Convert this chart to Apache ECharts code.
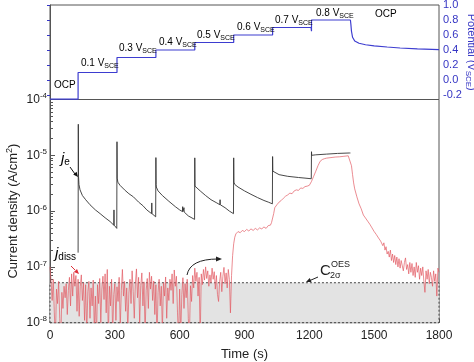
<!DOCTYPE html>
<html>
<head>
<meta charset="utf-8">
<script src="https://cdn.jsdelivr.net/npm/echarts@6/dist/echarts.min.js"></script>
<style>html,body{margin:0;padding:0;background:#fff}#c{width:474px;height:362px}</style>
</head>
<body>
<div id="c"></div>
<script>
// ---- Data ----
const potTime  = [0,130,130,310,310,490,490,670,670,850,850,1030,1030,1208,1210,1210,1390,1392,1395,1400,1410,1430,1460,1500,1560,1620,1700,1800];
const potValue = [-0.255,-0.255,0.1,0.1,0.3,0.3,0.4,0.4,0.5,0.5,0.6,0.6,0.7,0.7,0.65,0.8,0.8,0.75,0.65,0.57,0.52,0.49,0.47,0.455,0.44,0.427,0.415,0.405];

const jeTime  = [130,131,132,134,139,150,165,185,210,232,255,278,295,296,297,309,
                 310,311,314,324,345,365,386,410,430,448,470,471,472,489,
                 490,491,492,500,520,550,580,600,613,614,615,619,620,621,640,669,
                 670,671,675,695,720,745,772,786,787,788,810,830,849,
                 850,851,855,870,900,930,960,990,1010,1029,
                 1030,1031,1035,1060,1100,1150,1180,1209,
                 1210,1211,1230,1280,1330,1385,1390];
const jeValue = [1.8e-7,3.6e-5,4.2e-6,3.0e-6,2.4e-6,1.9e-6,1.6e-6,1.3e-6,1.05e-6,9.0e-7,7.6e-7,6.5e-7,5.6e-7,1.05e-6,5.6e-7,4.9e-7,
                 1.75e-5,3.9e-6,3.3e-6,2.9e-6,2.4e-6,2.05e-6,1.8e-6,1.45e-6,1.25e-6,1.05e-6,9.0e-7,1.4e-6,9.0e-7,7.9e-7,
                 9.1e-6,3.0e-6,2.7e-6,2.3e-6,1.9e-6,1.5e-6,1.2e-6,1.05e-6,9.8e-7,1.2e-6,9.8e-7,9.6e-7,1.15e-6,9.6e-7,8.2e-7,7.1e-7,
                 9.0e-6,2.8e-6,2.6e-6,2.3e-6,1.9e-6,1.6e-6,1.4e-6,1.3e-6,1.6e-6,1.3e-6,1.15e-6,1.0e-6,9.0e-7,
                 9.0e-6,3.3e-6,3.0e-6,2.7e-6,2.3e-6,2.0e-6,1.75e-6,1.55e-6,1.45e-6,1.35e-6,
                 9.5e-6,5.2e-6,4.8e-6,4.5e-6,4.2e-6,4.0e-6,3.9e-6,3.8e-6,
                 1.16e-5,1.0e-5,1.02e-5,1.05e-5,1.08e-5,1.1e-5,1.1e-5];

const jdTime = [0,5,10,15,20,25,30,35,40,45,50,55,60,65,70,75,80,85,90,95,100,105,110,115,120,125,130,135,140,145,150,155,160,165,170,175,180,185,190,195,
  200,205,210,215,220,225,230,235,240,245,250,255,260,265,270,275,280,285,290,295,300,305,310,315,320,325,330,335,340,345,350,355,360,365,370,375,380,385,390,395,
  400,405,410,415,420,425,430,435,440,445,450,455,460,465,470,475,480,485,490,495,500,505,510,515,520,525,530,535,540,545,550,555,560,565,570,575,580,585,590,595,
  600,605,610,615,620,625,630,635,640,645,650,655,660,665,670,675,680,685,690,695,700,705,710,715,720,725,730,735,740,745,750,755,760,765,770,775,780,785,790,795,
  800,805,810,815,820,825,830,835,840,845,850,855,860,865,870,880,890,900,910,920,930,940,950,960,970,980,990,1000,1010,1020,1025,1030,1035,1040,1050,1060,1070,1080,1090,
  1100,1110,1120,1130,1140,1150,1160,1170,1180,1190,1200,1205,1210,1220,1230,1240,1250,1260,1270,1280,1300,1320,1340,1360,1380,1388,1395,
  1400,1405,1410,1420,1430,1440,1450,1460,1470,1480,1490,1500,1510,1520,1530,1540,1545,1550,1555,1560,1565,1570,1575,1580,1585,1590,1595,
  1600,1605,1610,1615,1620,1625,1630,1635,1640,1645,1650,1655,1660,1665,1670,1675,1680,1685,1690,1695,1700,1705,1710,1715,1720,1725,1730,1735,1740,1745,1750,1755,1760,1765,1770,1775,1780,1785,1790,1795,1800];
const jdValue = [1.0e-7,5.5e-8,2.5e-8,6.0e-8,1.5e-8,5e-9,4.0e-8,2.2e-8,5.5e-8,1.2e-8,5e-9,3.5e-8,1.8e-8,4.5e-8,2.8e-8,5.0e-8,1.4e-8,3.8e-8,6.5e-8,2.0e-8,7.5e-8,3.0e-8,8.0e-8,4.5e-8,7.0e-8,1.6e-8,6.0e-8,1.3e-8,4.5e-8,7.2e-8,2.5e-8,5.2e-8,1.1e-8,4.8e-8,6e-9,3.6e-8,5.5e-8,1.2e-8,4.2e-8,2.0e-8,
  5.8e-8,7e-9,3.0e-8,5e-9,4.8e-8,2.2e-8,6.2e-8,1.0e-8,4.0e-8,6.8e-8,2.6e-8,7.5e-8,1.5e-8,9.0e-8,5e-9,4.5e-8,2.0e-8,6.0e-8,6e-9,3.2e-8,5.0e-8,1.1e-8,4.4e-8,2.4e-8,6.5e-8,8e-9,3.8e-8,9.0e-8,3.0e-8,5.5e-8,1.6e-8,4.2e-8,7e-9,3.4e-8,6.0e-8,2.2e-8,8.5e-8,3.6e-8,1.2e-8,5.0e-8,
  9.2e-8,2.8e-8,6.5e-8,1.0e-8,4.6e-8,7.8e-8,2.0e-8,5.4e-8,6e-9,3.8e-8,6.2e-8,1.8e-8,8.0e-8,4.0e-8,6.8e-8,2.5e-8,5.6e-8,1.4e-8,4.8e-8,5e-9,3.5e-8,6.0e-8,2.0e-8,4.5e-8,7e-9,5.2e-8,3.0e-8,6.6e-8,1.2e-8,4.2e-8,2.5e-8,6.0e-8,3.8e-8,7.5e-8,2.2e-8,8.8e-8,4.5e-8,6.8e-8,1.5e-8,5e-9,
  4.0e-8,6e-9,3.2e-8,6.4e-8,1.8e-8,5.0e-8,2.8e-8,6.0e-8,1.2e-8,5e-9,4.6e-8,2.4e-8,7.0e-8,4.2e-8,9.5e-8,5.5e-8,8.0e-8,3.0e-8,6.5e-8,5e-9,7.5e-8,4.8e-8,9.0e-8,5.8e-8,1.0e-7,6.2e-8,8.5e-8,4.5e-8,7.2e-8,5.2e-8,9.5e-8,6.0e-8,8.2e-8,4.0e-8,7.0e-8,3.2e-8,2.4e-8,5.5e-8,8.0e-8,3.6e-8,
  6.8e-8,9.8e-8,5.0e-8,7.8e-8,4.2e-8,9.0e-8,6.0e-8,1.5e-8,7.0e-8,1.6e-7,2.6e-7,3.4e-7,3.9e-7,4.0e-7,4.3e-7,4.1e-7,4.5e-7,4.3e-7,4.7e-7,4.4e-7,4.8e-7,4.5e-7,4.9e-7,4.6e-7,5.0e-7,4.8e-7,5.2e-7,4.9e-7,5.5e-7,5.6e-7,6.2e-7,6.5e-7,9.0e-7,1.15e-6,1.3e-6,1.45e-6,1.55e-6,1.7e-6,1.85e-6,
  1.95e-6,2.1e-6,2.05e-6,2.3e-6,2.4e-6,2.35e-6,2.6e-6,2.55e-6,2.75e-6,2.8e-6,2.9e-6,3.1e-6,3.4e-6,4.2e-6,5.2e-6,6.5e-6,7.8e-6,8.4e-6,8.7e-6,8.9e-6,9.1e-6,9.3e-6,9.4e-6,9.6e-6,9.8e-6,9.9e-6,6.5e-6,
  4.5e-6,3.2e-6,2.5e-6,1.8e-6,1.35e-6,1.1e-6,8.5e-7,7.5e-7,6.6e-7,5.8e-7,5.0e-7,4.3e-7,3.8e-7,3.3e-7,2.9e-7,2.4e-7,2.7e-7,2.0e-7,2.3e-7,1.7e-7,1.9e-7,1.5e-7,2.0e-7,1.3e-7,1.7e-7,1.2e-7,1.6e-7,
  1.1e-7,1.5e-7,1.0e-7,1.4e-7,9.5e-8,1.3e-7,1.4e-7,8.5e-8,1.2e-7,1.45e-7,9.0e-8,1.1e-7,7.5e-8,1.2e-7,8.0e-8,1.15e-7,7.0e-8,1.0e-7,6.5e-8,1.2e-7,8.0e-8,1.05e-7,6.0e-8,9.5e-8,7.0e-8,1.0e-7,5.5e-8,3.5e-8,8.5e-8,6.0e-8,9.0e-8,5.0e-8,8.0e-8,6.5e-8,4.5e-8,8.5e-8,5.5e-8,7.5e-8,3.0e-8,9.5e-8,8.0e-8];

const c2sigma = 5.2e-8;
const potTicks = [-0.2, 0.0, 0.2, 0.4, 0.6, 0.8, 1.0];
const stepLabels = ['OCP','0.1','0.3','0.4','0.5','0.6','0.7','0.8','OCP'];

// minor tick positions on log axis (exponent space)
const minorMult = [2,3,4,5,6,7,8,9];
const minorExp = [];
for (let e = -8; e < -4; e++) minorMult.forEach(m => minorExp.push(Math.log10(m) + e));

const FONT = 'Arial, "Liberation Sans", sans-serif';
const BLUE = '#3535c4';
const RED = '#e35a63';

function zip(a, b) { return a.map((v, i) => [v, b[i]]); }

function arrowHead(x1, y1, x2, y2, len, wid, color) {
  const dx = x2 - x1, dy = y2 - y1, d = Math.hypot(dx, dy);
  const ux = dx / d, uy = dy / d;
  const bx = x2 - ux * len, by = y2 - uy * len;
  return { type: 'polygon', z: 100, shape: { points: [[x2, y2], [bx - uy * wid, by + ux * wid], [bx + uy * wid, by - ux * wid]] }, style: { fill: color } };
}

const subRich = {
  m: { fontSize: 10, lineHeight: 13, fontFamily: FONT, color: '#222' },
  s: { fontSize: 7, lineHeight: 7, verticalAlign: 'bottom', fontFamily: FONT, color: '#222' }
};
const stepPos = [[54,85],[81,63],[119,48],[159,42],[197,35],[237,27],[275,20],[316,13],[375,14]];
const graphics = stepLabels.map((t, i) => ({
  type: 'text', x: stepPos[i][0], y: stepPos[i][1], z: 100,
  style: { text: t === 'OCP' ? '{m|OCP}' : '{m|' + t + ' V}{s|SCE}', rich: subRich, verticalAlign: 'middle' }
}));

// j_e annotation
graphics.push({ type: 'text', x: 61, y: 159, z: 100, style: { text: '{j|j}{s|e}', verticalAlign: 'middle',
  rich: { j: { fontSize: 15, fontStyle: 'italic', lineHeight: 16, fontFamily: FONT, color: '#111' }, s: { fontSize: 10, lineHeight: 10, verticalAlign: 'bottom', fontFamily: FONT, color: '#111' } } } });
graphics.push({ type: 'line', z: 100, shape: { x1: 70, y1: 167, x2: 75, y2: 174 }, style: { stroke: '#111', lineWidth: 1 } });
graphics.push(arrowHead(70, 167, 78, 177, 5, 2.2, '#111'));
// j_diss annotation
graphics.push({ type: 'text', x: 55, y: 254, z: 100, style: { text: '{j|j}{s|diss}', verticalAlign: 'middle',
  rich: { j: { fontSize: 15, fontStyle: 'italic', lineHeight: 16, fontFamily: FONT, color: '#e0303a' }, s: { fontSize: 10, lineHeight: 10, verticalAlign: 'bottom', fontFamily: FONT, color: '#e0303a' } } } });
graphics.push({ type: 'line', z: 100, shape: { x1: 71, y1: 266, x2: 75, y2: 270 }, style: { stroke: '#e0303a', lineWidth: 1 } });
graphics.push(arrowHead(71, 266, 79, 274, 5, 2.2, '#e0303a'));
// curved arrow
graphics.push({ type: 'bezierCurve', z: 100, shape: { x1: 187, y1: 275, cpx1: 190, cpy1: 259, x2: 218, y2: 259 }, style: { stroke: '#222', lineWidth: 1, fill: null } });
graphics.push(arrowHead(214, 259, 222, 259, 6, 2.4, '#222'));
// C_2sigma^OES
graphics.push({ type: 'text', x: 320, y: 271, z: 100, style: { text: 'C', fontSize: 15, fontFamily: FONT, fill: '#222', verticalAlign: 'middle' } });
graphics.push({ type: 'text', x: 331, y: 265, z: 100, style: { text: 'OES', fontSize: 9, fontFamily: FONT, fill: '#222', verticalAlign: 'middle' } });
graphics.push({ type: 'text', x: 330, y: 276, z: 100, style: { text: '2σ', fontSize: 9, fontFamily: FONT, fill: '#222', verticalAlign: 'middle' } });
graphics.push({ type: 'line', z: 100, shape: { x1: 318, y1: 277, x2: 310, y2: 280.5 }, style: { stroke: '#222', lineWidth: 1 } });
graphics.push(arrowHead(318, 277, 306, 282, 5, 2.2, '#222'));

const chart = echarts.init(document.getElementById('c'), null, { renderer: 'canvas' });
chart.setOption({
  animation: false,
  backgroundColor: '#fff',
  textStyle: { fontFamily: FONT },
  grid: [
    { left: 50, top: 5, width: 389, height: 94.5, show: true, borderColor: '#555', borderWidth: 1, backgroundColor: 'transparent', containLabel: false, outerBoundsMode: 'none' },
    { left: 50, top: 99.5, width: 389, height: 223.2, show: true, borderColor: '#555', borderWidth: 1, backgroundColor: 'transparent', containLabel: false, outerBoundsMode: 'none' }
  ],
  xAxis: [
    { type: 'value', gridIndex: 0, min: 0, max: 1800, axisLine: { show: false }, axisTick: { show: false }, axisLabel: { show: false }, splitLine: { show: false } },
    { type: 'value', gridIndex: 1, min: 0, max: 1800, interval: 300,
      axisLine: { lineStyle: { color: '#555' } },
      axisTick: { inside: true, length: 4, lineStyle: { color: '#555' } },
      minorTick: { show: true, splitNumber: 2, length: 3, lineStyle: { color: '#555' } },
      axisLabel: { fontSize: 12, color: '#222', margin: 7, fontFamily: FONT, formatter: v => String(v) },
      splitLine: { show: false },
      name: 'Time (s)', nameLocation: 'middle', nameGap: 25,
      nameTextStyle: { fontSize: 13, color: '#222', fontFamily: FONT } }
  ],
  yAxis: [
    { type: 'value', gridIndex: 0, position: 'right', min: -0.26, max: 1.0,
      axisLine: { show: true, lineStyle: { color: '#555' } },
      axisTick: { inside: true, length: 3, customValues: potTicks, lineStyle: { color: BLUE } },
      axisLabel: { customValues: potTicks, color: BLUE, fontSize: 11, margin: 4, fontFamily: FONT, formatter: v => v.toFixed(1) },
      splitLine: { show: false },
      name: '{a|Potential (V}{s|SCE}{a|)}', nameLocation: 'middle', nameRotate: -90, nameGap: 25, nameMoveOverlap: false,
      nameTextStyle: { rich: { a: { fontSize: 11, color: BLUE, fontFamily: FONT, lineHeight: 14 }, s: { fontSize: 8, color: BLUE, fontFamily: FONT, lineHeight: 8, verticalAlign: 'bottom' } } } },
    { type: 'log', gridIndex: 1, logBase: 10, min: 1e-8, max: 1e-4, position: 'left',
      axisLine: { show: true, lineStyle: { color: '#555' } },
      axisTick: { inside: true, length: 5, lineStyle: { color: '#555' } },
      axisLabel: { margin: 3, formatter: v => '{b|10}{sup|' + Math.round(Math.log10(v)) + '}',
        rich: { b: { fontSize: 12, color: '#222', fontFamily: FONT, lineHeight: 15 }, sup: { fontSize: 8, color: '#222', fontFamily: FONT, lineHeight: 8, verticalAlign: 'top' } } },
      splitLine: { show: false },
      name: '{a|Current density (A/cm}{p|2}{a|)}', nameLocation: 'middle', nameRotate: 90, nameGap: 29, nameMoveOverlap: false,
      nameTextStyle: { rich: { a: { fontSize: 13, color: '#222', fontFamily: FONT, lineHeight: 16 }, p: { fontSize: 9, color: '#222', fontFamily: FONT, lineHeight: 9, verticalAlign: 'top' } } } },
    { type: 'value', gridIndex: 1, min: -8, max: -4, position: 'left',
      axisLine: { show: false }, axisLabel: { show: false }, splitLine: { show: false },
      axisTick: { show: true, inside: true, length: 3, customValues: minorExp, lineStyle: { color: '#555' } } }
  ],
  series: [
    { type: 'line', name: 'Potential', xAxisIndex: 0, yAxisIndex: 0, data: zip(potTime, potValue), showSymbol: false,
      lineStyle: { color: '#3d3dd0', width: 1.2 }, z: 3 },
    { type: 'line', name: 'j_diss', xAxisIndex: 1, yAxisIndex: 1, data: zip(jdTime, jdValue), showSymbol: false,
      lineStyle: { color: RED, width: 0.7 }, z: 2,
      markArea: { silent: true, itemStyle: { color: '#e3e3e3', borderColor: '#444', borderWidth: 1, borderType: [2, 2] },
        data: [[{ xAxis: 0, yAxis: 1e-8 }, { xAxis: 1800, yAxis: c2sigma }]] } },
    { type: 'line', name: 'j_e', xAxisIndex: 1, yAxisIndex: 1, data: zip(jeTime, jeValue), showSymbol: false,
      lineStyle: { color: '#333', width: 0.9 }, z: 3 }
  ],
  graphic: graphics
});
</script>
</body>
</html>
